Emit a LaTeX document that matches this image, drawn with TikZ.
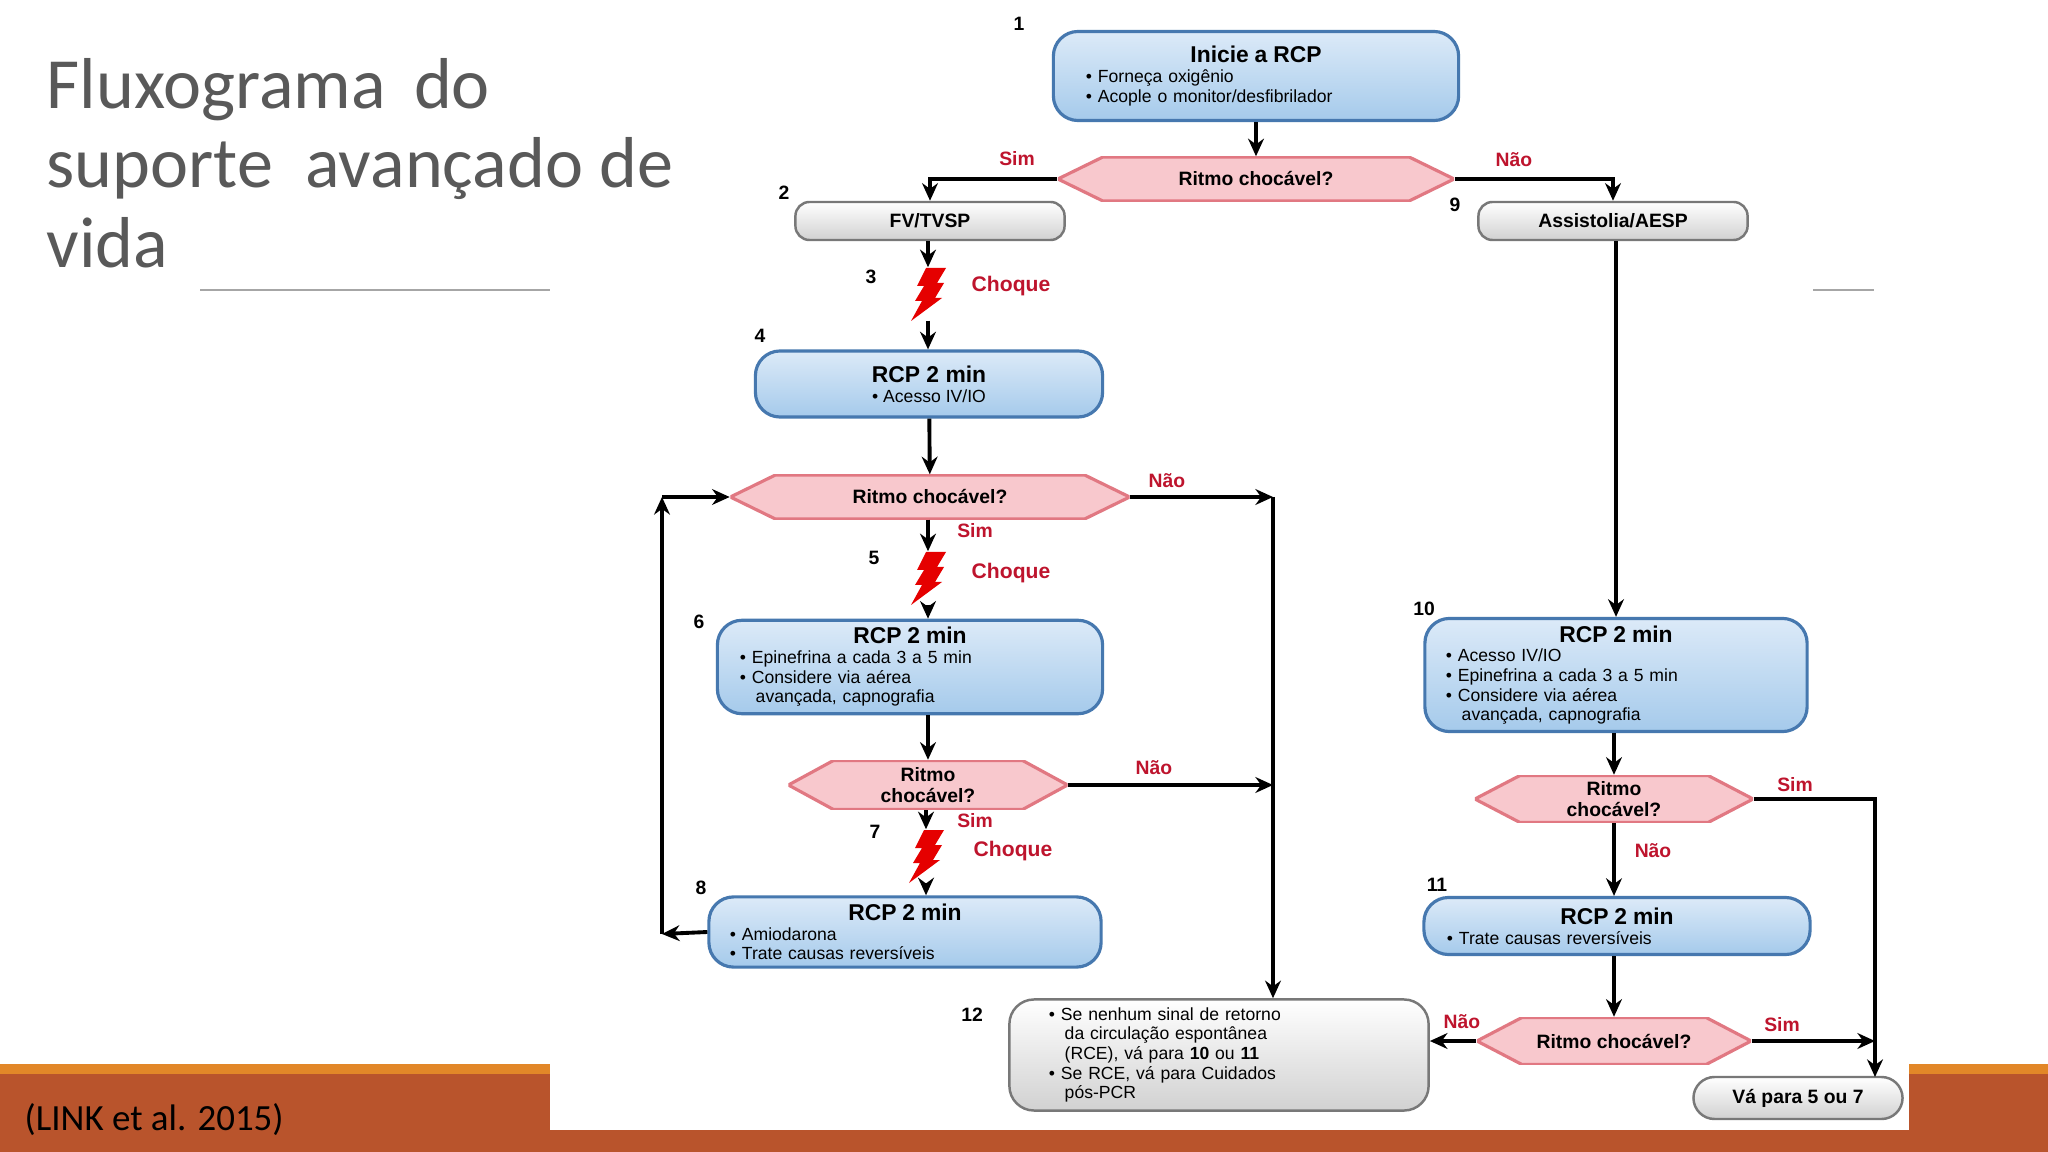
\documentclass[tikz,border=0pt]{standalone}
\usepackage{fontspec}
\setmainfont{Liberation Sans}
\newfontfamily\slidefont{Carlito}
\usetikzlibrary{arrows.meta}

\definecolor{rust}{RGB}{185,84,44}
\definecolor{orangeline}{RGB}{226,135,40}
\definecolor{titlegray}{RGB}{89,89,89}
\definecolor{boxline}{RGB}{70,120,175}
\definecolor{bluetop}{RGB}{220,234,248}
\definecolor{bluebot}{RGB}{165,202,235}
\definecolor{grayline}{RGB}{120,120,120}
\definecolor{pinkfill}{RGB}{248,200,205}
\definecolor{pinkline}{RGB}{225,120,130}
\definecolor{labelred}{RGB}{190,20,45}

\newcommand\hd[1]{{\centering\bfseries\fontsize{6.5}{7.5}\selectfont #1\par}}
\newcommand\bl{\textbullet\ }
\newcommand\drawbolt[1]{%
  \fill[red!90!black] ([shift={(-2,-26)}]#1.center) -- ++(20,0) -- ++(-9,15) -- ++(7,0)
    -- ++(-9,15) -- ++(7,0) -- ++(-31,23) -- ++(11,-20) -- ++(-7,0) -- ++(9,-15)
    -- ++(-7,0) -- cycle;}

\tikzset{
  bluebox/.style={draw=boxline, line width=0.9pt, rounded corners=7pt, top color=bluetop,
    bottom color=bluebot, inner sep=2pt, align=left, font=\fontsize{5}{5.6}\selectfont},
  graybox/.style={draw=grayline, line width=0.7pt, rounded corners=4pt, top color=white,
    bottom color=black!18, inner sep=2pt, font=\fontsize{5}{5.6}\selectfont},
  hexa/.style={minimum width=#1, minimum height=0.44cm, inner sep=0pt, align=center,
    font=\bfseries\fontsize{5.5}{6}\selectfont,
    path picture={\filldraw[fill=pinkfill, draw=pinkline, line width=0.9pt]
      (path picture bounding box.west) -- ([xshift=0.45cm]path picture bounding box.north west)
      -- ([xshift=-0.45cm]path picture bounding box.north east) -- (path picture bounding box.east)
      -- ([xshift=-0.45cm]path picture bounding box.south east)
      -- ([xshift=0.45cm]path picture bounding box.south west) -- cycle;}},
  boltnode/.style={minimum width=0.48cm, minimum height=0.52cm, inner sep=0pt},
  lbl/.style={text=labelred, font=\bfseries\fontsize{5.5}{6}\selectfont},
  num/.style={font=\bfseries\fontsize{5.5}{6}\selectfont},
  arr/.style={line width=1.1pt, -{Stealth[length=5pt, width=4.5pt]}},
  ln/.style={line width=1.1pt}
}

\begin{document}
\begin{tikzpicture}[x=0.01cm, y=-0.01cm]
\useasboundingbox (0,0) rectangle (2048,1152);
% slide
\fill[orangeline] (0,1064) rectangle (2048,1074);
\fill[rust] (0,1074) rectangle (2048,1152);
\fill[white] (550,0) rectangle (1909,1130);
\draw[black!35, line width=0.6pt] (200,290) -- (550,290);
\draw[black!35, line width=0.6pt] (1813,290) -- (1874,290);
\node[anchor=north west, align=left, text=titlegray, inner sep=0pt,
  font=\slidefont\fontsize{20.5}{22.5}\selectfont] (title) at (46,58)
  {Fluxograma \,do\\suporte \ avançado de\\vida};
\node[anchor=west, inner sep=0pt, font=\slidefont\fontsize{10.5}{12}\selectfont] (ref) at (24,1120)
  {(LINK et al. 2015)};

% left branch
\node[bluebox, minimum width=4.05cm, minimum height=0.89cm, text width=3.4cm] (n1) at (1256,76)
  {\hd{Inicie a RCP}\bl Forneça oxigênio\\\bl Acople o monitor/desfibrilador};
\node[hexa=3.96cm] (d0) at (1256,179) {Ritmo chocável?};
\node[graybox, minimum width=2.69cm, minimum height=0.38cm, font=\bfseries\fontsize{5.5}{6}\selectfont] (n2) at (930,221) {FV/TVSP};
\node[graybox, minimum width=2.69cm, minimum height=0.38cm, font=\bfseries\fontsize{5.5}{6}\selectfont] (n9) at (1613,221) {Assistolia/AESP};
\node[boltnode] (b3) at (928,294) {};
\node[bluebox, minimum width=3.47cm, minimum height=0.66cm, align=center] (n4) at (929,384)
  {{\bfseries\fontsize{6.5}{7.5}\selectfont RCP 2 min}\\\bl Acesso IV/IO};
\node[hexa=3.99cm] (d1) at (930,497) {Ritmo chocável?};
\node[boltnode] (b5) at (928,578) {};
\node[bluebox, minimum width=3.85cm, minimum height=0.91cm, text width=3.4cm] (n6) at (910,667)
  {\hd{RCP 2 min}\bl Epinefrina a cada 3 a 5 min\\\bl Considere via aérea\\\hspace*{0.9em}avançada, capnografia};
\node[hexa=2.79cm, minimum height=0.49cm] (d2) at (928,785) {Ritmo\\chocável?};
\node[boltnode] (b7) at (926,856) {};
\node[bluebox, minimum width=3.92cm, minimum height=0.68cm, text width=3.5cm] (n8) at (905,932)
  {\hd{RCP 2 min}\bl Amiodarona\\\bl Trate causas reversíveis};

% right branch
\node[bluebox, minimum width=3.82cm, minimum height=1.07cm, text width=3.4cm] (n10) at (1616,675)
  {\hd{RCP 2 min}\bl Acesso IV/IO\\\bl Epinefrina a cada 3 a 5 min\\\bl Considere via aérea\\\hspace*{0.9em}avançada, capnografia};
\node[hexa=2.78cm, minimum height=0.47cm] (d3) at (1614,799) {Ritmo\\chocável?};
\node[bluebox, minimum width=3.86cm, minimum height=0.57cm, text width=3.4cm] (n11) at (1617,926)
  {\hd{RCP 2 min}\bl Trate causas reversíveis};
\node[hexa=2.74cm, minimum height=0.47cm] (d4) at (1614,1041) {Ritmo chocável?};
\node[graybox, rounded corners=7pt, minimum width=4.19cm, minimum height=1.11cm, text width=3.4cm, align=left] (n12) at (1219,1055)
  {\bl Se nenhum sinal de retorno\\\hspace*{0.9em}da circulação espontânea\\\hspace*{0.9em}(RCE), vá para \textbf{10} ou \textbf{11}\\\bl Se RCE, vá para Cuidados\\\hspace*{0.9em}pós-PCR};
\node[graybox, rounded corners=6pt, minimum width=2.09cm, minimum height=0.42cm, font=\bfseries\fontsize{5.5}{6}\selectfont] (n57) at (1798,1098) {Vá para 5 ou 7};

% bolts
\drawbolt{b3}
\drawbolt{b5}
\drawbolt{b7}

% step numbers
\node[num] (l1) at (1019,24) {1};
\node[num] (l2) at (784,193) {2};
\node[num] (l3) at (871,277) {3};
\node[num] (l4) at (760,336) {4};
\node[num] (l5) at (874,558) {5};
\node[num] (l6) at (699,622) {6};
\node[num] (l7) at (875,832) {7};
\node[num] (l8) at (701,888) {8};
\node[num] (l9) at (1455,205) {9};
\node[num] (l10) at (1424,609) {10};
\node[num] (l11) at (1437,885) {11};
\node[num] (l12) at (972,1015) {12};

% labels
\node[lbl, font=\bfseries\fontsize{6}{7}\selectfont] (c3) at (1011,286) {Choque};
\node[lbl, font=\bfseries\fontsize{6}{7}\selectfont] (c5) at (1011,573) {Choque};
\node[lbl, font=\bfseries\fontsize{6}{7}\selectfont] (c7) at (1013,851) {Choque};
\node[lbl] (s0) at (1017,159) {Sim};
\node[lbl] (n0) at (1514,160) {Não};
\node[lbl] (s1) at (975,531) {Sim};
\node[lbl] (n1l) at (1167,481) {Não};
\node[lbl] (s2) at (975,821) {Sim};
\node[lbl] (n2l) at (1154,768) {Não};
\node[lbl] (s3) at (1795,785) {Sim};
\node[lbl] (n3l) at (1653,851) {Não};
\node[lbl] (n4l) at (1462,1022) {Não};
\node[lbl] (s4) at (1782,1025) {Sim};

% connectors
\coordinate (lb) at (662,934);
\coordinate (lt) at (662,497);
\coordinate (nr) at (1273,497);
\coordinate (sd) at (1875,1077);
\draw[arr] (n1) -- (d0);
\draw[arr] (d0.west) -| (n2);
\draw[arr] (d0.east) -| (n9);
\draw[arr] (n2.south -| b3) -- (b3);
\draw[arr] (b3) -- (b3 |- n4.north);
\draw[arr] (n4) -- (d1);
\draw[arr] (d1.south -| b5) -- (b5);
\draw[arr] (b5) -- (b5 |- n6.north);
\draw[arr] (n6.south -| d2) -- (d2);
\draw[arr] (d2.south -| b7) -- (b7);
\draw[arr] (b7) -- (b7 |- n8.north);
\draw[arr] (n8.west) -- (lb);
\draw[arr] (lb) -- (lt);
\draw[arr] (lt) -- (d1.west);
\draw[arr] (d1.east) -- (nr);
\draw[arr] (nr) -- (nr |- n12.north);
\draw[arr] (d2.east) -- (d2.east -| nr);
\draw[arr] (n9.south -| n10) -- (n10);
\draw[arr] (n10.south -| d3) -- (d3);
\draw[arr] (d3) -- (d3 |- n11.north);
\draw[arr] (n11.south -| d4) -- (d4);
\draw[arr] (d4.west) -- (d4.west -| n12.east);
\draw[arr] (d4.east) -- (d4.east -| sd);
\draw[arr] (d3.east) -| (sd);
\end{tikzpicture}
\end{document}
